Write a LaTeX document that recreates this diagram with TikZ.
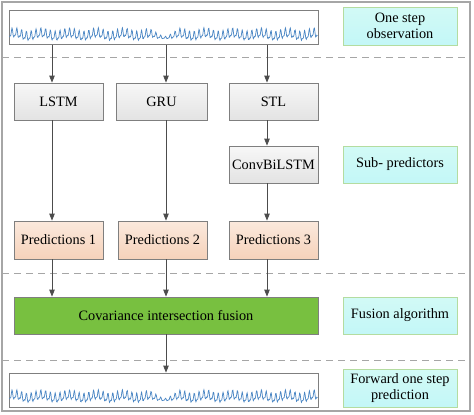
\documentclass[tikz,border=0pt]{standalone}
\usepackage{fontspec}
\setmainfont{Liberation Serif}
\usetikzlibrary{shadows, arrows.meta}
\tikzset{>={Triangle[length=7pt, width=5.5pt]}}
\definecolor{boxline}{HTML}{7F7F7F}
\definecolor{peachtop}{HTML}{FBE9DD}
\definecolor{peachbot}{HTML}{F6D2BA}
\definecolor{cyantop}{HTML}{D2FAF6}
\definecolor{cyanbot}{HTML}{C3F7F7}
\definecolor{labelline}{HTML}{B4DCA0}
\definecolor{fusegreen}{HTML}{78C040}
\definecolor{wave}{HTML}{4A86C4}
\tikzset{
  base/.style={draw=boxline, line width=0.8pt, align=center, inner sep=0pt,
    font=\fontsize{14.3}{16}\selectfont, drop shadow={shadow xshift=1pt, shadow yshift=-1pt, opacity=0.25}},
  model/.style={base, top color=gray!6, bottom color=gray!22, minimum width=89pt, minimum height=37pt},
  pred/.style={base, top color=peachtop, bottom color=peachbot, minimum width=89pt, minimum height=38pt},
  stage/.style={base, draw=labelline, top color=cyantop, bottom color=cyanbot, minimum width=114pt},
  signal/.style={draw=boxline, line width=0.8pt, fill=white, minimum width=309pt, minimum height=34pt, inner sep=0pt},
  link/.style={->, draw=black!70, line width=0.8pt},
  sep/.style={draw=gray!70, line width=0.8pt, dash pattern=on 7pt off 5pt}
}
\newcommand{\waveline}[1]{%
  \draw[wave, line width=0.7pt, shift={(#1)}] plot[domain=0:308, samples=500, smooth]
    (\x,{2.5*max(0,1-abs(\x-155)/16)-6.5*(1-0.8*max(0,1-abs(\x-155)/16))*(0.6*sin(57.2958*mod(1.31*\x-1.6,6.28319))
      +0.3*sin(57.2958*mod(2.62*\x+1,6.28319))+0.25*sin(57.2958*mod(0.23*\x+0.4,6.28319)))});}
\begin{document}
\begin{tikzpicture}[x=1pt, y=-1pt]
\useasboundingbox (0,0) rectangle (474,415);
\draw[gray!70, line width=1.6pt] (2,2) rectangle (470,411);
\foreach \y in {57,273,360} \draw[sep] (2,\y) -- (470,\y);
% signal boxes
\node[signal] (obs) at (163.5,27.5) {};
\waveline{9.5,35}
\node[signal] (out) at (163.5,390) {};
\waveline{9.5,397}
% stage labels
\node[stage, minimum height=38pt] (obsl) at (400,26) {One step\\observation};
\node[stage, minimum height=37pt] (subl) at (400,164.5) {Sub- predictors};
\node[stage, minimum height=37pt] (fusl) at (400,315.5) {Fusion algorithm};
\node[stage, minimum height=38pt] (fwdl) at (400,388) {Forward one step\\prediction};
% predictors
\node[model] (lstm) at (58.5,101.5) {LSTM};
\node[model, minimum width=91pt] (gru) at (161.5,101.5) {GRU};
\node[model] (stl) at (273.5,101.5) {STL};
\node[model] (conv) at (273.5,164.5) {ConvBiLSTM};
\node[pred] (p1) at (58.5,240) {Predictions 1};
\node[pred] (p2) at (162.5,240) {Predictions 2};
\node[pred] (p3) at (273.5,240) {Predictions 3};
\node[base, fill=fusegreen, minimum width=304pt, minimum height=37pt] (cif) at (166,315.5) {Covariance intersection fusion};
% connectors
\coordinate (c1) at (52,0);
\coordinate (c2) at (166,0);
\coordinate (c3) at (267,0);
\draw[link] (obs.south -| c1) -- (lstm.north -| c1);
\draw[link] (obs.south -| c2) -- (gru.north -| c2);
\draw[link] (obs.south -| c3) -- (stl.north -| c3);
\draw[link] (stl.south -| c3) -- (conv.north -| c3);
\draw[link] (lstm.south -| c1) -- (p1.north -| c1);
\draw[link] (gru.south -| c2) -- (p2.north -| c2);
\draw[link] (conv.south -| c3) -- (p3.north -| c3);
\draw[link] (p1.south -| c1) -- (cif.north -| c1);
\draw[link] (p2.south -| c2) -- (cif.north -| c2);
\draw[link] (p3.south -| c3) -- (cif.north -| c3);
\draw[link] (cif.south -| c2) -- (out.north -| c2);
\end{tikzpicture}
\end{document}
